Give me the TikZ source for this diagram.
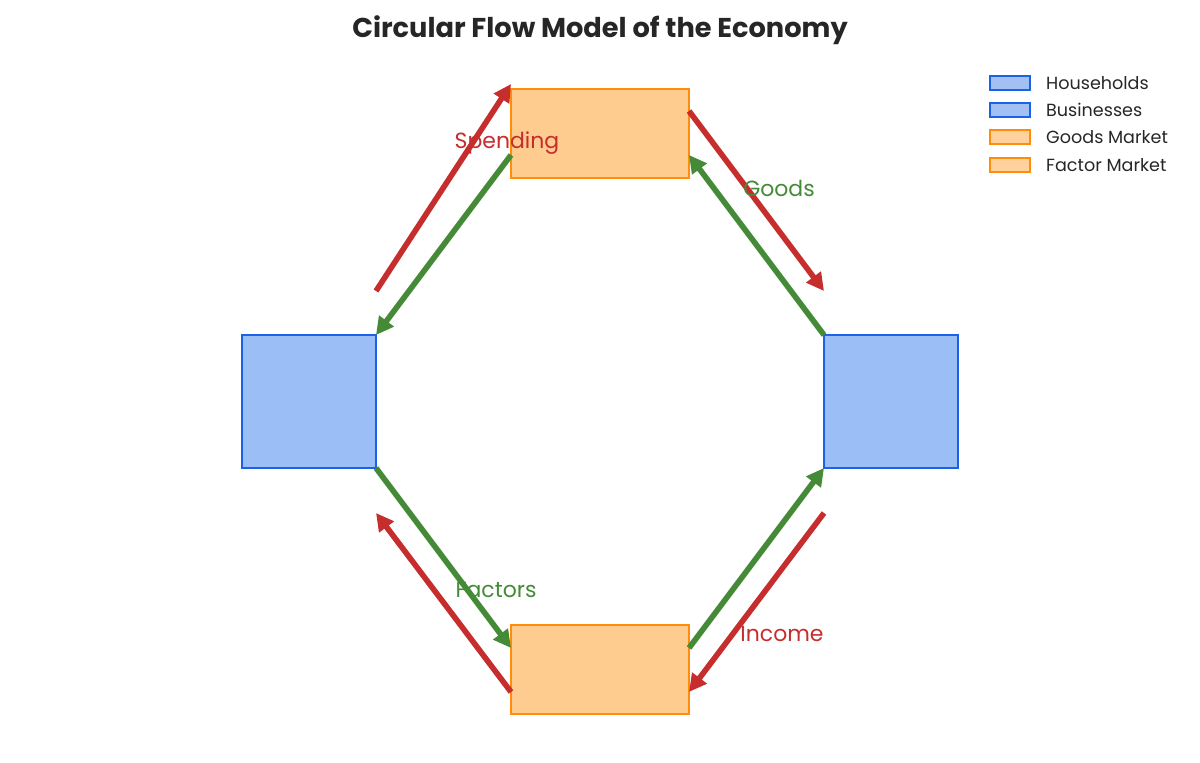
\documentclass[tikz,border=0pt]{standalone}
\usepackage{fontspec}
\setmainfont{Poppins}
\usetikzlibrary{arrows.meta,positioning}
\definecolor{hhfill}{HTML}{9ABEF5}
\definecolor{hhdraw}{HTML}{1A62E6}
\definecolor{mkfill}{HTML}{FECC8F}
\definecolor{mkdraw}{HTML}{FF8C0A}
\definecolor{flowred}{HTML}{C62D2D}
\definecolor{flowgreen}{HTML}{448A37}
\tikzset{
  agent/.style={draw=hhdraw, fill=hhfill, line width=1pt, minimum width=2.68cm, minimum height=2.66cm, inner sep=0pt},
  market/.style={draw=mkdraw, fill=mkfill, line width=1pt, minimum width=3.56cm, minimum height=1.78cm, inner sep=0pt},
  money/.style={draw=flowred, line width=3.2pt, -{Triangle[length=10pt,width=10pt]}},
  real/.style={draw=flowgreen, line width=3.2pt, -{Triangle[length=10pt,width=10pt]}},
  lbl/.style={font=\fontsize{12.5}{15}\selectfont},
  key/.style={draw=#1, fill=#1!40!white, line width=1pt, minimum width=0.8cm, minimum height=0.28cm, inner sep=0pt}
}
\begin{document}
\begin{tikzpicture}[x=0.02cm, y=-0.02cm]
\useasboundingbox (0,0) rectangle (1200,763);

\node[font=\bfseries\fontsize{15.5}{19}\selectfont, text=black!85] (title) at (600,30) {Circular Flow Model of the Economy};

% boxes
\node[agent] (house) at (309,401.5) {};
\node[agent] (firm) at (891,401.5) {};
\node[market] (goods) at (600,133.5) {};
\node[market] (factor) at (600,669.5) {};

% arrow ends
\coordinate (s1) at (376,291);  \coordinate (s2) at (511,84);
\coordinate (g1) at (511,155);  \coordinate (g2) at (376,335);
\coordinate (d1) at (689,111);  \coordinate (d2) at (824,291);
\coordinate (p1) at (824,335);  \coordinate (p2) at (689,155);
\coordinate (f1) at (376,468);  \coordinate (f2) at (511,648);
\coordinate (w1) at (511,692);  \coordinate (w2) at (376,513);
\coordinate (r1) at (689,648);  \coordinate (r2) at (824,468);
\coordinate (i1) at (824,513);  \coordinate (i2) at (689,692);

\draw[money] (s1) -- (s2);
\draw[real] (g1) -- (g2);
\draw[money] (d1) -- (d2);
\draw[real] (p1) -- (p2);
\draw[real] (f1) -- (f2);
\draw[money] (w1) -- (w2);
\draw[real] (r1) -- (r2);
\draw[money] (i1) -- (i2);

% labels
\node[lbl, text=flowred] (spend) at (507,143) {Spending};
\node[lbl, text=flowgreen] (goodslbl) at (779,188) {Goods};
\node[lbl, text=flowgreen] (factlbl) at (496,590) {Factors};
\node[lbl, text=flowred] (inc) at (782,634) {Income};

% legend
\foreach \y/\c/\t in {83/hhdraw/Households, 110/hhdraw/Businesses, 137/mkdraw/Goods Market, 165/mkdraw/Factor Market}{
  \node[key=\c] (k\y) at (1010,\y) {};
  \node[anchor=west, font=\fontsize{10}{12}\selectfont, text=black!85] at (1040,\y) {\t};
}
\end{tikzpicture}
\end{document}
